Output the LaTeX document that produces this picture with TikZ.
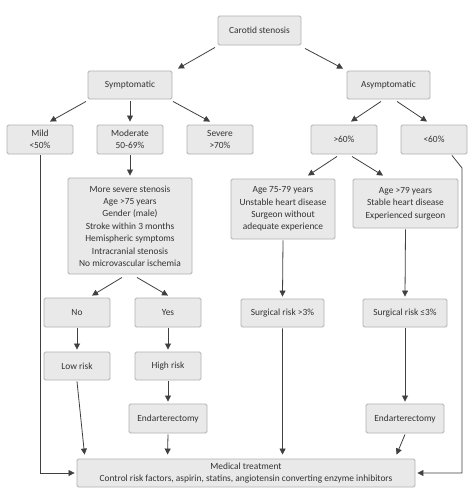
\documentclass[tikz,border=0pt]{standalone}
\usepackage{fontspec}
\setmainfont{Carlito}
\usepackage{tikz}
\usetikzlibrary{positioning,calc,arrows.meta}

\tikzset{
  box/.style={draw=gray!60, fill=gray!17, line width=0.9pt, rounded corners=1.5pt,
    text=black!80, align=center, inner sep=0pt,
    font=\fontsize{9.4}{12.4}\selectfont},
  arr/.style={-{Triangle[length=6pt,width=6pt]}, line width=0.8pt, draw=black!75}
}

\begin{document}
\begin{tikzpicture}[x=1pt,y=-1pt]
\useasboundingbox[fill=white] (0,0) rectangle (474,504);
%% Top of the tree
\node[box, minimum width=83, minimum height=29] (carotid) at (259.5,30.5) {Carotid stenosis};
\node[box, minimum width=84, minimum height=28] (sympt) at (130,85) {Symptomatic};
\node[box, minimum width=83, minimum height=28] (asympt) at (388.5,85) {Asymptomatic};
%% Degree of stenosis
\node[box, minimum width=66, minimum height=29] (mild) at (40,139.5) {Mild\\<50\%};
\node[box, minimum width=66, minimum height=29] (moderate) at (130,139.5) {Moderate\\50-69\%};
\node[box, minimum width=66, minimum height=29] (severe) at (220,139.5) {Severe\\>70\%};
\node[box, minimum width=66, minimum height=29] (gtsixty) at (344,139.5) {>60\%};
\node[box, minimum width=66, minimum height=29] (ltsixty) at (434,139.5) {<60\%};
%% Risk factors
\node[box, minimum width=124, minimum height=96] (factors) at (130,226)
  {More severe stenosis\\Age >75 years\\Gender (male)\\Stroke within 3 months\\Hemispheric symptoms\\Intracranial stenosis\\No microvascular ischemia};
\node[box, minimum width=104, minimum height=60] (agelow) at (283,209)
  {Age 75-79 years\\Unstable heart disease\\Surgeon without\\adequate experience};
\node[box, minimum width=105, minimum height=49] (agehigh) at (405.5,203.5)
  {Age >79 years\\Stable heart disease\\Experienced surgeon};
%% Decisions
\node[box, minimum width=66, minimum height=29] (no) at (77,312.5) {No};
\node[box, minimum width=66, minimum height=29] (yes) at (168,312.5) {Yes};
\node[box, minimum width=83, minimum height=28] (riskhi) at (282.5,313) {Surgical risk >3\%};
\node[box, minimum width=84, minimum height=28] (risklo) at (405,313) {Surgical risk ≤3\%};
\node[box, minimum width=66, minimum height=28] (lowrisk) at (77,366) {Low risk};
\node[box, minimum width=66, minimum height=28] (highrisk) at (168,366) {High risk};
\node[box, minimum width=78, minimum height=29] (endl) at (168,418.5) {Endarterectomy};
\node[box, minimum width=78, minimum height=29] (endr) at (405,418.5) {Endarterectomy};
%% Bottom
\node[box, minimum width=338, minimum height=28] (medical) at (246,473)
  {Medical treatment\\Control risk factors, aspirin, statins, angiotensin converting enzyme inhibitors};
\coordinate (rbend) at (462,168);
\coordinate (rcorner) at (462,473);

%% Arrows
\draw[arr] ($(carotid.south)+(-44.5,2)$) -- ($(sympt.north)+(48,-2)$);
\draw[arr] ($(carotid.south)+(45.5,3)$) -- ($(asympt.north)+(-45.5,-2)$);
\draw[arr] ($(sympt.south)+(-44,2)$) -- ($(mild.north)+(10,-3)$);
\draw[arr] ($(sympt.south)+(0,2)$) -- ($(moderate.north)+(0,-3)$);
\draw[arr] ($(sympt.south)+(43,2)$) -- ($(severe.north)+(-10,-3)$);
\draw[arr] ($(asympt.south)+(-7.5,2)$) -- ($(gtsixty.north)+(7,-3)$);
\draw[arr] ($(asympt.south)+(8.5,2)$) -- ($(ltsixty.north)+(-7,-3)$);
\draw[arr] ($(gtsixty.south)+(-7,2)$) -- ($(agelow.north)+(25,-3)$);
\draw[arr] ($(gtsixty.south)+(8,2)$) -- ($(agehigh.north)+(-22.5,-3)$);
\draw[arr] ($(moderate.south)+(0,1)$) -- ($(factors.north)+(0,-2)$);
\draw[arr] ($(factors.south)+(-8,3)$) -- ($(no.north)+(15,-2)$);
\draw[arr] ($(factors.south)+(7,3)$) -- ($(yes.north)+(0,-2)$);
\draw[arr] ($(no.south)+(0,1)$) -- ($(lowrisk.north)+(0,-2)$);
\draw[arr] ($(yes.south)+(0,1)$) -- ($(highrisk.north)+(0,-2)$);
\draw[arr] ($(highrisk.south)+(0,1)$) -- ($(endl.north)+(0,-2)$);
\draw[arr] ($(agelow.south)+(0,1)$) -- ($(riskhi.north)+(0,-2)$);
\draw[arr] ($(agehigh.south)+(0,1)$) -- ($(risklo.north)+(0,-2)$);
\draw[arr] ($(risklo.south)+(0,1)$) -- ($(endr.north)+(0,-2)$);
\draw[arr] ($(lowrisk.south)+(0,1)$) -- ($(medical.north west)+(8,-4)$);
\draw[arr] ($(endl.south)+(0,1)$) -- ($(medical.north west)+(91,-4)$);
\draw[arr] ($(riskhi.south)+(0,1)$) -- ($(medical.north west)+(206,-4)$);
\draw[arr] ($(endr.south)+(0,1)$) -- ($(medical.north west)+(320,-4)$);
\draw[arr] ($(mild.south)+(0,1)$) |- ($(medical.west)+(-2,0)$);
\draw[arr] ($(ltsixty.south)+(18,1)$) -- (rbend) -- (rcorner) -- ($(medical.east)+(2,0)$);
\end{tikzpicture}
\end{document}
